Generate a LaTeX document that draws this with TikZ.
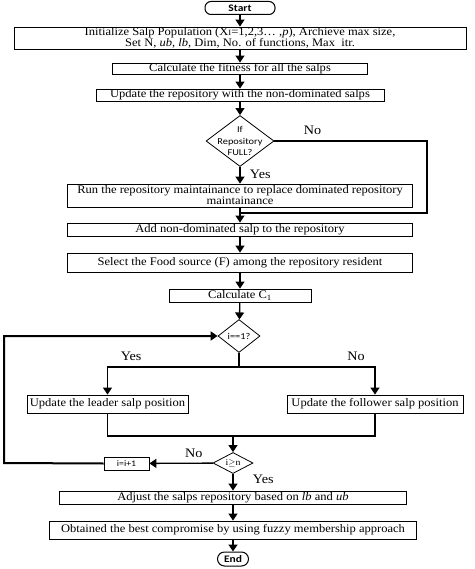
\documentclass[tikz,border=0pt]{standalone}
\usepackage{fontspec}
\setmainfont{Liberation Serif}[FakeStretch=1.09]
\newfontfamily\labelsans{Carlito}[FakeStretch=1.15]
\usetikzlibrary{shapes.geometric,arrows.meta}

\begin{document}
\begin{tikzpicture}[x=1pt,y=-1pt,
    box/.style={draw,thick,inner sep=0pt,align=center,font=\fontsize{11.5}{11}\selectfont},
    pill/.style={draw,line width=1pt,rounded corners=6pt,inner sep=0pt,minimum height=13pt,font=\labelsans\bfseries\fontsize{10}{10}\selectfont},
    test/.style={draw,thick,diamond,inner sep=0pt,align=center},
    flow/.style={line width=1.3pt,-{Triangle[width=9pt,length=7pt]}},
    link/.style={line width=1.3pt},
    tag/.style={font=\fontsize{13}{13}\selectfont}]

      \useasboundingbox (0,0) rectangle (474,569);

      \node[pill,minimum width=70pt] (start) at (240,8) {Start};
      \node[box,minimum width=452pt,minimum height=22pt,font=\fontsize{11.5}{11.5}\selectfont] (init) at (240,38)
        {Initialize Salp Population (X{\fontsize{8}{8}\selectfont I}=1,2,3\ldots\ ,\textit{p}), Archieve max size,\\
         Set N, \textit{ub}, \textit{lb}, Dim, No. of functions, Max\ \ itr.};
      \node[box,minimum width=255pt,minimum height=11pt] (fit) at (240,68.5) {Calculate the fitness for all the salps};
      \node[box,minimum width=288pt,minimum height=12pt] (upd) at (240,95) {Update the repository with the non-dominated salps};
      \node[test,minimum width=68pt,minimum height=51pt,
        label={[align=center,font=\labelsans\fontsize{9}{11.5}\selectfont]center:If\\Repository\\FULL?}] (full) at (240,141) {};
      \node[box,minimum width=345pt,minimum height=23pt] (run) at (240,195.5)
        {Run the repository maintainance to replace dominated repository\\maintainance};
      \node[box,minimum width=345pt,minimum height=13pt] (add) at (240,229.5) {Add non-dominated salp to the repository};
      \node[box,minimum width=345pt,minimum height=19pt] (sel) at (240,262.5) {Select the Food source (F) among the repository resident};
      \node[box,minimum width=142pt,minimum height=13pt] (calc) at (240,295.5) {Calculate C\textsubscript{1}};
      \node[test,aspect=1.3,minimum width=42pt,minimum height=33pt,font=\labelsans\fontsize{9}{9}\selectfont] (one) at (239,336) {i==1?};
      \node[box,minimum width=161pt,minimum height=18pt] (lead) at (107.5,404) {Update the leader salp position};
      \node[box,minimum width=176pt,minimum height=18pt] (foll) at (375,404) {Update the follower salp position};
      \node[test,aspect=2,minimum width=40pt,minimum height=21pt,font=\fontsize{9}{9}\selectfont] (last) at (233,463) {i$\geq$n};
      \node[box,minimum width=45pt,minimum height=13pt,font=\labelsans\fontsize{8.5}{8.5}\selectfont] (inc) at (126.5,463.5) {i=i+1};
      \node[box,minimum width=347pt,minimum height=13pt] (adj) at (233,497.5) {Adjust the salps repository based on \textit{lb} and \textit{ub}};
      \node[box,minimum width=367pt,minimum height=18pt] (obt) at (233,530) {Obtained the best compromise by using fuzzy membership approach};
      \node[pill,minimum width=31pt,minimum height=14pt,rounded corners=7pt] (end) at (233,559) {End};

      \coordinate (merge) at (240,213);
      \coordinate (split) at (239,367);
      \coordinate (join) at (233,436);
      \coordinate (back) at (4,463);

      \draw[flow] (start) -- (init);
      \draw[flow] (init) -- (fit);
      \draw[flow] (fit) -- (upd);
      \draw[flow] (upd) -- (full);
      \draw[flow] (full) -- (run) node[tag,pos=0.45,right=6pt] {Yes};
      \draw[link] (full.east) -- (427,141) node[tag,pos=0.25,above=2pt] {No} |- (merge);
      \draw[flow] (run) -- (add);
      \draw[flow] (add) -- (sel);
      \draw[flow] (sel) -- (calc);
      \draw[flow] (calc) -- (one);
      \draw[link] (one) -- (split);
      \draw[flow] (split) -| (lead.north) node[tag,pos=0.41,above=2pt] {Yes};
      \draw[flow] (split) -| (foll.north) node[tag,pos=0.43,above=2pt] {No};
      \draw[link] (lead.south) |- (join) -| (foll.south);
      \draw[flow] (join) -- (last);
      \draw[flow] (last) -- (inc) node[tag,pos=0.3,above=2pt] {No};
      \draw[line width=2pt,-{Triangle[width=9pt,length=7pt]}] (inc.west) -- (back) |- (one.west);
      \draw[flow] (last) -- (adj) node[tag,pos=0.3,right=16pt] {Yes};
      \draw[flow] (adj) -- (obt);
      \draw[flow] (obt) -- (end);

    \end{tikzpicture}
\end{document}
